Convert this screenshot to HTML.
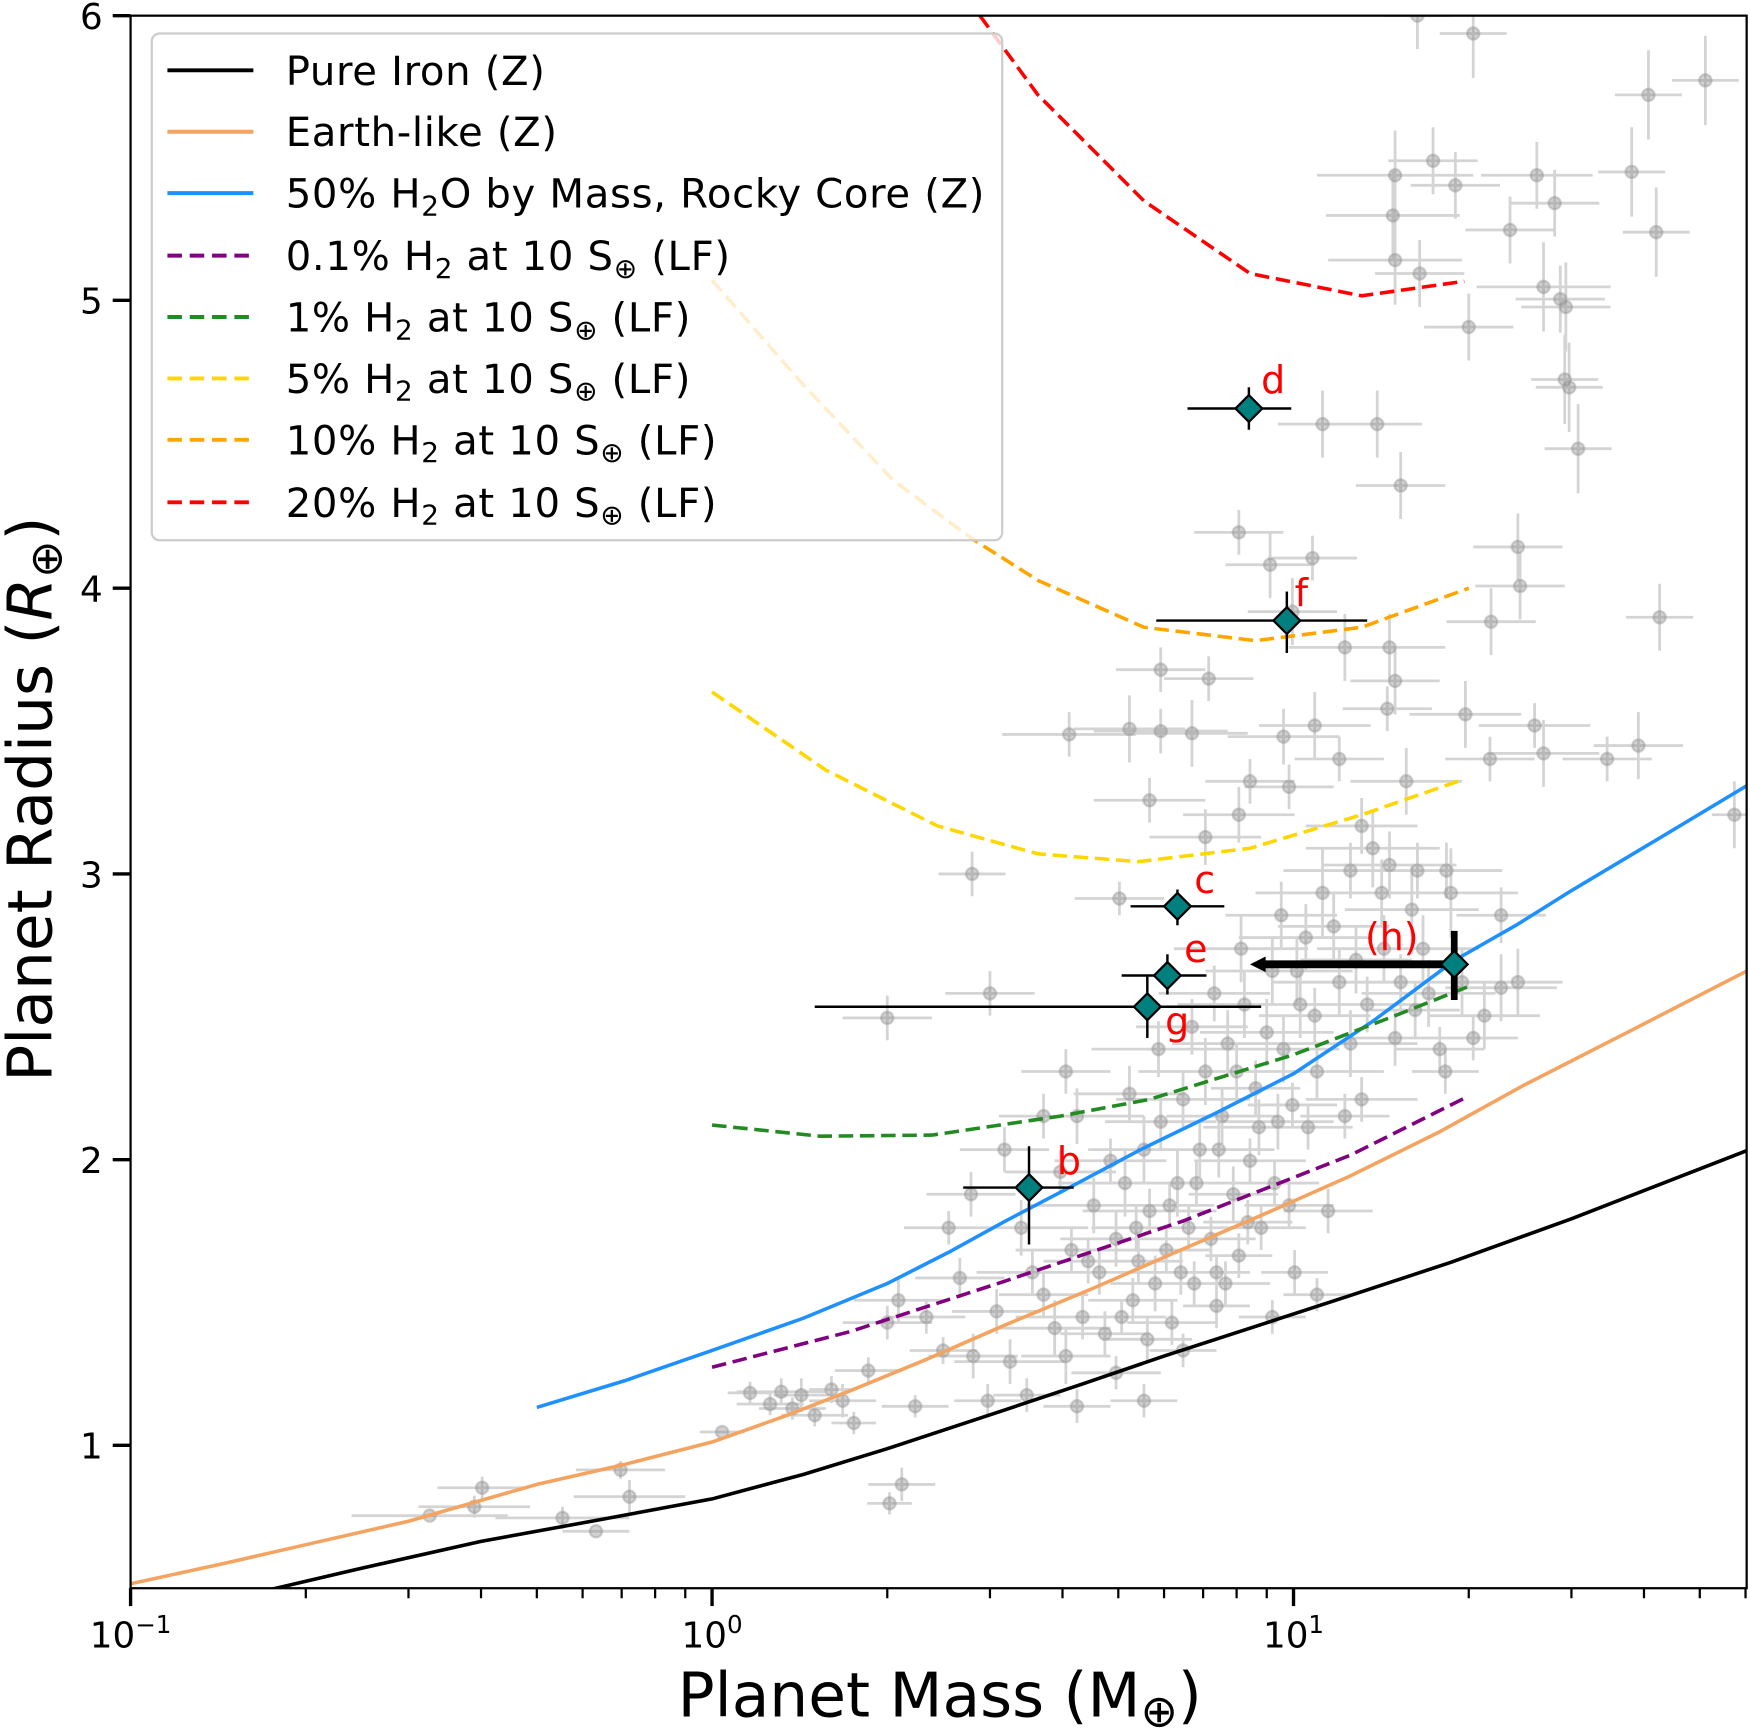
<!DOCTYPE html>
<html><head><meta charset="utf-8"><style>
html,body{margin:0;padding:0;background:#fff}
svg{display:block;font-family:"DejaVu Sans","Liberation Sans",sans-serif}
</style></head><body>
<svg width="1750" height="1730" viewBox="0 0 1568 1550" xmlns="http://www.w3.org/2000/svg">
<defs>
<clipPath id="cp"><rect x="117" y="14" width="1448" height="1409"/></clipPath>
</defs>
<g clip-path="url(#cp)">
<path fill="none" stroke="#999" stroke-opacity="0.42" stroke-width="2.5" d="
M385,1358m-70,0h140m-70,0v0 M425,1350m-50,0h100m-50,-10v20 M432,1333m-40,0h80m-40,-10v20 M504,1360m-60,0h120m-60,-10v20 M534,1372m-30,0h60 M556,1317m-40,0h80m-40,-8v16 M564,1341m-50,0h100m-50,-15v30 M647,1283m-20,0h40 M797,1347m-20,0h40m-20,-10v20 M808,1330m-30,0h60m-30,-15v30
M672,1248m-20,0h40m-20,-10v20 M690,1258m-30,0h60m-30,-10v20 M700,1247m-40,0h80m-40,-12v24 M710,1262m-30,0h60m-30,-10v20 M718,1250m-25,0h50m-25,-15v30 M730,1268m-30,0h60m-30,-10v20 M745,1245m-20,0h40m-20,-12v24 M755,1255m-30,0h60m-30,-15v30 M765,1275m-20,0h40m-20,-10v20 M778,1228m-30,0h60m-30,-12v24 M795,1185m-40,0h80m-40,-15v30 M805,1165m-40,0h80m-40,-20v40 M820,1260m-30,0h60m-30,-10v20 M830,1180m-35,0h70m-35,-15v30 M845,1210m-30,0h60m-30,-12v24 M860,1145m-40,0h80m-40,-18v36 M872,1215m-40,0h80m-40,-20v40 M885,1255m-30,0h60m-30,-15v30 M893,1175m-40,0h80m-40,-20v40 M905,1220m-50,0h100m-50,-20v40 M915,1100m-60,0h120m-60,-25v50 M925,1140m-50,0h100m-50,-20v40 M935,1160m-40,0h80m-40,-20v40 M945,1190m-50,0h100m-50,-25v50 M955,1215m-40,0h80m-40,-25v50 M960,1120m-50,0h100m-50,-20v40 M970,1180m-60,0h120m-60,-20v40 M980,1080m-60,0h120m-60,-25v50 M985,1140m-40,0h80m-40,-20v40 M990,1195m-40,0h80m-40,-20v40 M1000,1110m-50,0h100m-50,-25v50 M1008,1060m-60,0h120m-60,-30v60 M1015,1165m-40,0h80m-40,-20v40 M1020,1130m-40,0h80m-40,-20v40 M1025,1030m-50,0h100m-50,-30v60 M1030,1085m-60,0h120m-60,-20v40 M1035,1150m-40,0h80m-40,-25v50 M1040,1005m-50,0h100m-50,-25v50 M1045,1120m-40,0h80m-40,-20v40 M1050,1185m-40,0h80m-40,-20v40 M1055,1060m-50,0h100m-50,-30v60 M1060,985m-60,0h120m-60,-25v50 M1065,1100m-50,0h100m-50,-20v40 M1070,1150m-30,0h60m-30,-20v40 M1075,1030m-50,0h100m-50,-25v50 M1080,960m-60,0h120m-60,-30v60 M1085,1110m-40,0h80m-40,-20v40 M1090,1170m-30,0h60m-30,-20v40 M1095,1000m-50,0h100m-50,-25v50 M1100,935m-50,0h100m-50,-30v60 M1105,1070m-40,0h80m-40,-25v50 M1110,1125m-30,0h60m-30,-20v40 M1115,900m-60,0h120m-60,-30v60 M1120,1040m-50,0h100m-50,-20v40 M1125,975m-40,0h80m-40,-25v50 M1130,1100m-40,0h80m-40,-20v40 M1140,870m-60,0h120m-60,-30v60 M1145,1005m-50,0h100m-50,-25v50 M1150,940m-50,0h100m-50,-30v60 M1155,1080m-40,0h80m-40,-20v40 M1160,1140m-30,0h60m-30,-20v40 M1165,900m-60,0h120m-60,-30v60 M1170,840m-60,0h120m-60,-30v60 M1180,960m-60,0h120m-60,-25v50 M1185,800m-60,0h120m-60,-40v80 M1190,1085m-40,0h80m-40,-20v40 M1200,880m-60,0h120m-60,-30v60 M1210,935m-60,0h120m-60,-30v60 M1220,985m-50,0h100m-50,-20v40 M1230,760m-60,0h120m-60,-35v70 M1240,850m-60,0h120m-60,-30v60 M1250,930m-40,0h80m-40,-25v50 M1265,815m-60,0h120m-60,-40v80 M1280,890m-60,0h120m-60,-30v60 M1300,800m-60,0h120m-60,-40v80 M1330,910m-50,0h100m-50,-30v60 M1345,885m-50,0h100m-50,-30v60 M1360,880m-40,0h80m-40,-30v60 M1295,960m-30,0h60m-30,-20v40 M1268,905m-40,0h80m-40,-25v50
M950,1050m-50,0h100m-50,-20v40 M965,1000m-60,0h120m-60,-25v50 M975,1130m-40,0h80m-40,-20v40 M995,1040m-50,0h100m-50,-20v40 M1005,1180m-40,0h80m-40,-15v30 M1012,980m-50,0h100m-50,-25v50 M1018,1100m-40,0h80m-40,-20v40 M1028,1200m-40,0h80m-40,-20v40 M1038,940m-60,0h120m-60,-25v50 M1048,1080m-40,0h80m-40,-20v40 M1058,1140m-40,0h80m-40,-20v40 M1068,920m-50,0h100m-50,-25v50 M1072,1060m-40,0h80m-40,-20v40 M1088,890m-50,0h100m-50,-25v50 M1092,1030m-50,0h100m-50,-25v50 M1098,1150m-40,0h80m-40,-20v40 M1108,960m-40,0h80m-40,-25v50 M1112,850m-60,0h120m-60,-30v60 M1118,1095m-40,0h80m-40,-20v40 M1128,1010m-50,0h100m-50,-25v50 M1135,925m-60,0h120m-60,-30v60 M1142,1060m-40,0h80m-40,-20v40 M1148,820m-50,0h100m-50,-30v60 M1158,990m-40,0h80m-40,-20v40 M1162,870m-50,0h100m-50,-30v60 M1172,1010m-40,0h80m-40,-20v40 M1178,910m-50,0h100m-50,-25v50 M1195,830m-50,0h100m-50,-30v60 M1205,1000m-40,0h80m-40,-20v40 M1215,860m-50,0h100m-50,-30v60 M1225,900m-50,0h100m-50,-25v50 M1238,800m-50,0h100m-50,-30v60 M1255,880m-40,0h80m-40,-25v50 M1275,850m-50,0h100m-50,-30v60 M1290,940m-40,0h80m-40,-20v40 M1310,880m-40,0h80m-40,-30v60 M1320,930m-40,0h80m-40,-20v40 M1345,820m-40,0h80m-40,-25v50 M1000,1230m-40,0h80m-40,-15v30 M1025,1255m-30,0h60m-30,-15v30 M1060,1210m-30,0h60m-30,-15v30 M1090,1140m-30,0h60m-30,-15v30 M850,1100m-40,0h80m-40,-15v30 M870,1070m-40,0h80m-40,-20v40 M900,1030m-40,0h80m-40,-20v40 M935,1000m-40,0h80m-40,-20v40 M920,1250m-30,0h60m-30,-15v30 M965,1260m-30,0h60m-30,-15v30 M1140,1180m-30,0h60m-30,-15v30 M1180,1160m-30,0h60m-30,-15v30
M871,783m-30,0h60m-30,-20v40 M887,890m-40,0h80m-40,-20v40 M795,912m-40,0h80m-40,-20v40 M955,960m-40,0h80m-40,-20v40 M1003,805m-40,0h80m-40,-15v30 M1030,717m-50,0h100m-50,-20v40 M1040,655m-60,0h120m-60,-20v40 M1068,657m-50,0h100m-50,-30v60 M1080,750m-50,0h100m-50,-25v50 M1110,730m-50,0h100m-50,-25v50 M1120,700m-40,0h80m-40,-20v40 M1150,660m-50,0h100m-50,-25v50 M1155,705m-40,0h80m-40,-20v40 M1178,650m-50,0h100m-50,-30v60 M1200,680m-40,0h80m-40,-20v40 M1210,780m-60,0h120m-60,-25v50 M1220,740m-50,0h100m-50,-25v50 M1245,775m-60,0h120m-60,-30v60 M1260,700m-50,0h100m-50,-30v60 M1270,780m-40,0h80m-40,-25v50 M1296,780m-50,0h100m-50,-25v50 M1313,640m-50,0h100m-50,-30v60 M1335,680m-40,0h80m-40,-20v40 M1375,650m-50,0h100m-50,-20v40 M1383,675m-50,0h100m-50,-30v60 M1440,680m-40,0h80m-40,-20v40 M1468,668m-40,0h80m-40,-30v60 M1554,730m-20,0h40m-20,-30v60 M958,658m-60,0h120m-60,-20v40 M1012,653m-50,0h100m-50,-30v60 M1040,600m-40,0h80m-40,-20v40 M1083,608m-40,0h80m-40,-20v40 M1205,580m-50,0h100m-50,-30v60 M1245,580m-50,0h100m-50,-30v60 M1250,610m-40,0h80m-40,-30v60 M1243,635m-40,0h80m-40,-20v40 M1336,557m-40,0h80m-40,-30v60 M1362,525m-40,0h80m-40,-30v60 M1360,490m-40,0h80m-40,-30v60 M1487,553m-30,0h60m-30,-30v60 M1110,477m-40,0h80m-40,-20v40 M1138,506m-40,0h80m-40,-30v60 M1176,500m-40,0h80m-40,-20v40 M1158,548m-40,0h80m-40,-30v60 M1255,435m-40,0h80m-40,-30v60 M1234,380m-40,0h80m-40,-30v60 M1185,380m-40,0h80m-40,-30v60
M1250,157m-70,0h140m-70,-40v80 M1248,193m-60,0h120m-60,-40v80 M1250,233m-60,0h120m-60,-40v80 M1272,245m-40,0h80m-40,-30v60 M1270,14m-30,0h60m-30,-30v60 M1284,144m-40,0h80m-40,-30v60 M1304,166m-40,0h80m-40,-30v60 M1316,293m-40,0h80m-40,-30v60 M1320,30m-30,0h60m-30,-40v80 M1353,206m-40,0h80m-40,-30v60 M1377,157m-50,0h100m-50,-30v60 M1393,182m-40,0h80m-40,-30v60 M1383,257m-60,0h120m-60,-40v80 M1398,268m-40,0h80m-40,-30v60 M1403,275m-40,0h80m-40,-40v80 M1402,340m-30,0h60m-30,-40v80 M1406,347m-30,0h60m-30,-40v80 M1414,402m-30,0h60m-30,-40v80 M1462,154m-30,0h60m-30,-40v80 M1477,85m-30,0h60m-30,-40v80 M1484,208m-30,0h60m-30,-40v80 M1528,72m-30,0h60m-30,-40v80"/>
<g fill="#888" fill-opacity="0.38" stroke="#999" stroke-opacity="0.45" stroke-width="2">
<circle cx="385" cy="1358" r="5.5"/><circle cx="425" cy="1350" r="5.5"/><circle cx="432" cy="1333" r="5.5"/><circle cx="504" cy="1360" r="5.5"/><circle cx="534" cy="1372" r="5.5"/><circle cx="556" cy="1317" r="5.5"/><circle cx="564" cy="1341" r="5.5"/><circle cx="647" cy="1283" r="5.5"/><circle cx="797" cy="1347" r="5.5"/><circle cx="808" cy="1330" r="5.5"/>
<circle cx="672" cy="1248" r="5.5"/><circle cx="690" cy="1258" r="5.5"/><circle cx="700" cy="1247" r="5.5"/><circle cx="710" cy="1262" r="5.5"/><circle cx="718" cy="1250" r="5.5"/><circle cx="730" cy="1268" r="5.5"/><circle cx="745" cy="1245" r="5.5"/><circle cx="755" cy="1255" r="5.5"/><circle cx="765" cy="1275" r="5.5"/><circle cx="778" cy="1228" r="5.5"/><circle cx="795" cy="1185" r="5.5"/><circle cx="805" cy="1165" r="5.5"/><circle cx="820" cy="1260" r="5.5"/><circle cx="830" cy="1180" r="5.5"/><circle cx="845" cy="1210" r="5.5"/><circle cx="860" cy="1145" r="5.5"/><circle cx="872" cy="1215" r="5.5"/><circle cx="885" cy="1255" r="5.5"/><circle cx="893" cy="1175" r="5.5"/><circle cx="905" cy="1220" r="5.5"/><circle cx="915" cy="1100" r="5.5"/><circle cx="925" cy="1140" r="5.5"/><circle cx="935" cy="1160" r="5.5"/><circle cx="945" cy="1190" r="5.5"/><circle cx="955" cy="1215" r="5.5"/><circle cx="960" cy="1120" r="5.5"/><circle cx="970" cy="1180" r="5.5"/><circle cx="980" cy="1080" r="5.5"/><circle cx="985" cy="1140" r="5.5"/><circle cx="990" cy="1195" r="5.5"/><circle cx="1000" cy="1110" r="5.5"/><circle cx="1008" cy="1060" r="5.5"/><circle cx="1015" cy="1165" r="5.5"/><circle cx="1020" cy="1130" r="5.5"/><circle cx="1025" cy="1030" r="5.5"/><circle cx="1030" cy="1085" r="5.5"/><circle cx="1035" cy="1150" r="5.5"/><circle cx="1040" cy="1005" r="5.5"/><circle cx="1045" cy="1120" r="5.5"/><circle cx="1050" cy="1185" r="5.5"/><circle cx="1055" cy="1060" r="5.5"/><circle cx="1060" cy="985" r="5.5"/><circle cx="1065" cy="1100" r="5.5"/><circle cx="1070" cy="1150" r="5.5"/><circle cx="1075" cy="1030" r="5.5"/><circle cx="1080" cy="960" r="5.5"/><circle cx="1085" cy="1110" r="5.5"/><circle cx="1090" cy="1170" r="5.5"/><circle cx="1095" cy="1000" r="5.5"/><circle cx="1100" cy="935" r="5.5"/><circle cx="1105" cy="1070" r="5.5"/><circle cx="1110" cy="1125" r="5.5"/><circle cx="1115" cy="900" r="5.5"/><circle cx="1120" cy="1040" r="5.5"/><circle cx="1125" cy="975" r="5.5"/><circle cx="1130" cy="1100" r="5.5"/><circle cx="1140" cy="870" r="5.5"/><circle cx="1145" cy="1005" r="5.5"/><circle cx="1150" cy="940" r="5.5"/><circle cx="1155" cy="1080" r="5.5"/><circle cx="1160" cy="1140" r="5.5"/><circle cx="1165" cy="900" r="5.5"/><circle cx="1170" cy="840" r="5.5"/><circle cx="1180" cy="960" r="5.5"/><circle cx="1185" cy="800" r="5.5"/><circle cx="1190" cy="1085" r="5.5"/><circle cx="1200" cy="880" r="5.5"/><circle cx="1210" cy="935" r="5.5"/><circle cx="1220" cy="985" r="5.5"/><circle cx="1230" cy="760" r="5.5"/><circle cx="1240" cy="850" r="5.5"/><circle cx="1250" cy="930" r="5.5"/><circle cx="1265" cy="815" r="5.5"/><circle cx="1280" cy="890" r="5.5"/><circle cx="1300" cy="800" r="5.5"/><circle cx="1330" cy="910" r="5.5"/><circle cx="1345" cy="885" r="5.5"/><circle cx="1360" cy="880" r="5.5"/><circle cx="1295" cy="960" r="5.5"/><circle cx="1268" cy="905" r="5.5"/>
<circle cx="950" cy="1050" r="5.5"/><circle cx="965" cy="1000" r="5.5"/><circle cx="975" cy="1130" r="5.5"/><circle cx="995" cy="1040" r="5.5"/><circle cx="1005" cy="1180" r="5.5"/><circle cx="1012" cy="980" r="5.5"/><circle cx="1018" cy="1100" r="5.5"/><circle cx="1028" cy="1200" r="5.5"/><circle cx="1038" cy="940" r="5.5"/><circle cx="1048" cy="1080" r="5.5"/><circle cx="1058" cy="1140" r="5.5"/><circle cx="1068" cy="920" r="5.5"/><circle cx="1072" cy="1060" r="5.5"/><circle cx="1088" cy="890" r="5.5"/><circle cx="1092" cy="1030" r="5.5"/><circle cx="1098" cy="1150" r="5.5"/><circle cx="1108" cy="960" r="5.5"/><circle cx="1112" cy="850" r="5.5"/><circle cx="1118" cy="1095" r="5.5"/><circle cx="1128" cy="1010" r="5.5"/><circle cx="1135" cy="925" r="5.5"/><circle cx="1142" cy="1060" r="5.5"/><circle cx="1148" cy="820" r="5.5"/><circle cx="1158" cy="990" r="5.5"/><circle cx="1162" cy="870" r="5.5"/><circle cx="1172" cy="1010" r="5.5"/><circle cx="1178" cy="910" r="5.5"/><circle cx="1195" cy="830" r="5.5"/><circle cx="1205" cy="1000" r="5.5"/><circle cx="1215" cy="860" r="5.5"/><circle cx="1225" cy="900" r="5.5"/><circle cx="1238" cy="800" r="5.5"/><circle cx="1255" cy="880" r="5.5"/><circle cx="1275" cy="850" r="5.5"/><circle cx="1290" cy="940" r="5.5"/><circle cx="1310" cy="880" r="5.5"/><circle cx="1320" cy="930" r="5.5"/><circle cx="1345" cy="820" r="5.5"/><circle cx="1000" cy="1230" r="5.5"/><circle cx="1025" cy="1255" r="5.5"/><circle cx="1060" cy="1210" r="5.5"/><circle cx="1090" cy="1140" r="5.5"/><circle cx="850" cy="1100" r="5.5"/><circle cx="870" cy="1070" r="5.5"/><circle cx="900" cy="1030" r="5.5"/><circle cx="935" cy="1000" r="5.5"/><circle cx="920" cy="1250" r="5.5"/><circle cx="965" cy="1260" r="5.5"/><circle cx="1140" cy="1180" r="5.5"/><circle cx="1180" cy="1160" r="5.5"/>
<circle cx="871" cy="783" r="5.5"/><circle cx="887" cy="890" r="5.5"/><circle cx="795" cy="912" r="5.5"/><circle cx="955" cy="960" r="5.5"/><circle cx="1003" cy="805" r="5.5"/><circle cx="1030" cy="717" r="5.5"/><circle cx="1040" cy="655" r="5.5"/><circle cx="1068" cy="657" r="5.5"/><circle cx="1080" cy="750" r="5.5"/><circle cx="1110" cy="730" r="5.5"/><circle cx="1120" cy="700" r="5.5"/><circle cx="1150" cy="660" r="5.5"/><circle cx="1155" cy="705" r="5.5"/><circle cx="1178" cy="650" r="5.5"/><circle cx="1200" cy="680" r="5.5"/><circle cx="1210" cy="780" r="5.5"/><circle cx="1220" cy="740" r="5.5"/><circle cx="1245" cy="775" r="5.5"/><circle cx="1260" cy="700" r="5.5"/><circle cx="1270" cy="780" r="5.5"/><circle cx="1296" cy="780" r="5.5"/><circle cx="1313" cy="640" r="5.5"/><circle cx="1335" cy="680" r="5.5"/><circle cx="1375" cy="650" r="5.5"/><circle cx="1383" cy="675" r="5.5"/><circle cx="1440" cy="680" r="5.5"/><circle cx="1468" cy="668" r="5.5"/><circle cx="1554" cy="730" r="5.5"/><circle cx="958" cy="658" r="5.5"/><circle cx="1012" cy="653" r="5.5"/><circle cx="1040" cy="600" r="5.5"/><circle cx="1083" cy="608" r="5.5"/><circle cx="1205" cy="580" r="5.5"/><circle cx="1245" cy="580" r="5.5"/><circle cx="1250" cy="610" r="5.5"/><circle cx="1243" cy="635" r="5.5"/><circle cx="1336" cy="557" r="5.5"/><circle cx="1362" cy="525" r="5.5"/><circle cx="1360" cy="490" r="5.5"/><circle cx="1487" cy="553" r="5.5"/><circle cx="1110" cy="477" r="5.5"/><circle cx="1138" cy="506" r="5.5"/><circle cx="1176" cy="500" r="5.5"/><circle cx="1158" cy="548" r="5.5"/><circle cx="1255" cy="435" r="5.5"/><circle cx="1234" cy="380" r="5.5"/><circle cx="1185" cy="380" r="5.5"/>
<circle cx="1250" cy="157" r="5.5"/><circle cx="1248" cy="193" r="5.5"/><circle cx="1250" cy="233" r="5.5"/><circle cx="1272" cy="245" r="5.5"/><circle cx="1270" cy="14" r="5.5"/><circle cx="1284" cy="144" r="5.5"/><circle cx="1304" cy="166" r="5.5"/><circle cx="1316" cy="293" r="5.5"/><circle cx="1320" cy="30" r="5.5"/><circle cx="1353" cy="206" r="5.5"/><circle cx="1377" cy="157" r="5.5"/><circle cx="1393" cy="182" r="5.5"/><circle cx="1383" cy="257" r="5.5"/><circle cx="1398" cy="268" r="5.5"/><circle cx="1403" cy="275" r="5.5"/><circle cx="1402" cy="340" r="5.5"/><circle cx="1406" cy="347" r="5.5"/><circle cx="1414" cy="402" r="5.5"/><circle cx="1462" cy="154" r="5.5"/><circle cx="1477" cy="85" r="5.5"/><circle cx="1484" cy="208" r="5.5"/><circle cx="1528" cy="72" r="5.5"/>
</g>
</g>
<g clip-path="url(#cp)" fill="none" stroke-width="3.2" stroke-linejoin="round">
<polyline stroke="#000" points="209,1432 320,1406 431,1381 530,1363 638,1343 720,1321 795,1298 901,1263 970,1240 1043,1215 1120,1190 1209,1161 1300,1131 1408,1092 1480,1064 1565,1031"/>
<polyline stroke="#f4a460" points="93,1424 117,1419 200,1401 274,1384 366,1363 481,1330 560,1312 638,1292 700,1270 762,1246 830,1218 901,1187 980,1154 1058,1120 1130,1089 1209,1054 1290,1014 1366,972 1460,924 1565,870"/>
<polyline stroke="#1e90ff" points="481,1261 560,1237 638,1210 720,1181 795,1150 850,1122 899,1095 960,1063 1024,1029 1090,997 1159,962 1230,915 1304,860 1360,828 1408,798 1480,755 1565,704"/>
<polyline stroke="#800080" stroke-dasharray="13,6" points="638,1225 762,1193 900,1148 1060,1094 1210,1035 1316,982"/>
<polyline stroke="#228b22" stroke-dasharray="13,6" points="638,1008 735,1018 835,1017 950,1000 1030,985 1159,945 1250,910 1318,883"/>
<polyline stroke="#ffd700" stroke-dasharray="13,6" points="638,620 740,690 840,740 930,765 1020,772 1120,760 1220,730 1312,698"/>
<polyline stroke="#ffa500" stroke-dasharray="13,6" points="638,251 720,345 800,430 870,482 930,520 1025,562 1125,574 1220,562 1316,527"/>
<polyline stroke="#ff0000" stroke-dasharray="13,6" points="878,14 930,85 1025,180 1120,245 1220,265 1312,252"/>
</g>
<g stroke="#000" stroke-width="2.2" fill="none">
<line x1="863" y1="1064" x2="962" y2="1064"/><line x1="922" y1="1027" x2="922" y2="1115"/>
<line x1="1013" y1="812" x2="1097" y2="812"/><line x1="1055" y1="797" x2="1055" y2="829"/>
<line x1="1064" y1="366" x2="1157" y2="366"/><line x1="1119" y1="347" x2="1119" y2="385"/>
<line x1="1005" y1="874" x2="1081" y2="874"/><line x1="1046" y1="855" x2="1046" y2="891"/>
<line x1="1036" y1="556" x2="1225" y2="556"/><line x1="1153" y1="530" x2="1153" y2="585"/>
<line x1="730" y1="902" x2="1130" y2="902"/><line x1="1028" y1="875" x2="1028" y2="930"/>
<line x1="1303" y1="864" x2="1130" y2="864" stroke-width="7"/><line x1="1303" y1="834" x2="1303" y2="896" stroke-width="6"/>
</g>
<polygon points="1120,864 1134,857 1134,871" fill="#000"/>
<g fill="#007f7f" stroke="#000" stroke-width="2">
<polygon points="922,1052 934,1064 922,1076 910,1064"/>
<polygon points="1055,800 1067,812 1055,824 1043,812"/>
<polygon points="1119,354 1131,366 1119,378 1107,366"/>
<polygon points="1046,862 1058,874 1046,886 1034,874"/>
<polygon points="1153,544 1165,556 1153,568 1141,556"/>
<polygon points="1028,890 1040,902 1028,914 1016,902"/>
<polygon points="1303,852 1315,864 1303,876 1291,864"/>
</g>
<g fill="#ff0000" font-size="34">
<text x="947" y="1052">b</text><text x="1070" y="800">c</text><text x="1130" y="352">d</text>
<text x="1061" y="862">e</text><text x="1160" y="543">f</text><text x="1044" y="927">g</text>
<text x="1223" y="851">(h)</text>
</g>
<rect x="117" y="14" width="1448" height="1409" fill="none" stroke="#000" stroke-width="2"/>
<g stroke="#000" stroke-width="3">
<line x1="101" y1="14" x2="117" y2="14"/><line x1="101" y1="269" x2="117" y2="269"/><line x1="101" y1="527" x2="117" y2="527"/>
<line x1="101" y1="783" x2="117" y2="783"/><line x1="101" y1="1039" x2="117" y2="1039"/><line x1="101" y1="1295" x2="117" y2="1295"/>
<line x1="117" y1="1423" x2="117" y2="1439"/><line x1="638" y1="1423" x2="638" y2="1439"/><line x1="1159" y1="1423" x2="1159" y2="1439"/>
</g>
<path stroke="#000" stroke-width="2" d="M274,1423v9M366,1423v9M431,1423v9M481,1423v9M522,1423v9M557,1423v9M587,1423v9M614,1423v9M795,1423v9M887,1423v9M952,1423v9M1002,1423v9M1043,1423v9M1078,1423v9M1108,1423v9M1135,1423v9M1316,1423v9M1408,1423v9M1473,1423v9M1523,1423v9M1564,1423v9"/>
<g font-size="32" text-anchor="end" fill="#000">
<text x="92" y="26">6</text><text x="92" y="281">5</text><text x="92" y="539">4</text>
<text x="92" y="795">3</text><text x="92" y="1051">2</text><text x="92" y="1307">1</text>
</g>
<g font-size="32" text-anchor="middle">
<text x="117" y="1476">10<tspan dy="-13" font-size="22">−1</tspan></text>
<text x="638" y="1476">10<tspan dy="-13" font-size="22">0</tspan></text>
<text x="1159" y="1476">10<tspan dy="-13" font-size="22">1</tspan></text>
</g>
<text x="842" y="1538" font-size="55" text-anchor="middle">Planet Mass (M<tspan font-size="40" dy="9">⊕</tspan><tspan dy="-9">)</tspan></text>
<text transform="translate(46,716) rotate(-90)" font-size="55" text-anchor="middle">Planet Radius (<tspan font-style="italic">R</tspan><tspan font-size="40" dy="9">⊕</tspan><tspan dy="-9">)</tspan></text>
<rect x="136" y="30" width="762" height="454" rx="7" fill="#fff" fill-opacity="0.8" stroke="#ccc" stroke-width="2"/>
<g stroke-width="3.5">
<line x1="150" y1="63" x2="227" y2="63" stroke="#000"/>
<line x1="150" y1="118" x2="227" y2="118" stroke="#f4a460"/>
<line x1="150" y1="173" x2="227" y2="173" stroke="#1e90ff"/>
<line x1="150" y1="229" x2="227" y2="229" stroke="#800080" stroke-dasharray="13,7"/>
<line x1="150" y1="284" x2="227" y2="284" stroke="#228b22" stroke-dasharray="13,7"/>
<line x1="150" y1="339" x2="227" y2="339" stroke="#ffd700" stroke-dasharray="13,7"/>
<line x1="150" y1="394" x2="227" y2="394" stroke="#ffa500" stroke-dasharray="13,7"/>
<line x1="150" y1="450" x2="227" y2="450" stroke="#ff0000" stroke-dasharray="13,7"/>
</g>
<g font-size="36" letter-spacing="0.6">
<text x="256" y="76">Pure Iron (Z)</text>
<text x="256" y="131">Earth-like (Z)</text>
<text x="256" y="186">50% H<tspan font-size="25" dy="7">2</tspan><tspan dy="-7">O by Mass, Rocky Core (Z)</tspan></text>
<text x="256" y="242">0.1% H<tspan font-size="25" dy="7">2</tspan><tspan dy="-7"> at 10 S</tspan><tspan font-size="25" dy="7">⊕</tspan><tspan dy="-7"> (LF)</tspan></text>
<text x="256" y="297">1% H<tspan font-size="25" dy="7">2</tspan><tspan dy="-7"> at 10 S</tspan><tspan font-size="25" dy="7">⊕</tspan><tspan dy="-7"> (LF)</tspan></text>
<text x="256" y="352">5% H<tspan font-size="25" dy="7">2</tspan><tspan dy="-7"> at 10 S</tspan><tspan font-size="25" dy="7">⊕</tspan><tspan dy="-7"> (LF)</tspan></text>
<text x="256" y="407">10% H<tspan font-size="25" dy="7">2</tspan><tspan dy="-7"> at 10 S</tspan><tspan font-size="25" dy="7">⊕</tspan><tspan dy="-7"> (LF)</tspan></text>
<text x="256" y="463">20% H<tspan font-size="25" dy="7">2</tspan><tspan dy="-7"> at 10 S</tspan><tspan font-size="25" dy="7">⊕</tspan><tspan dy="-7"> (LF)</tspan></text>
</g>
</svg>
</body></html>
